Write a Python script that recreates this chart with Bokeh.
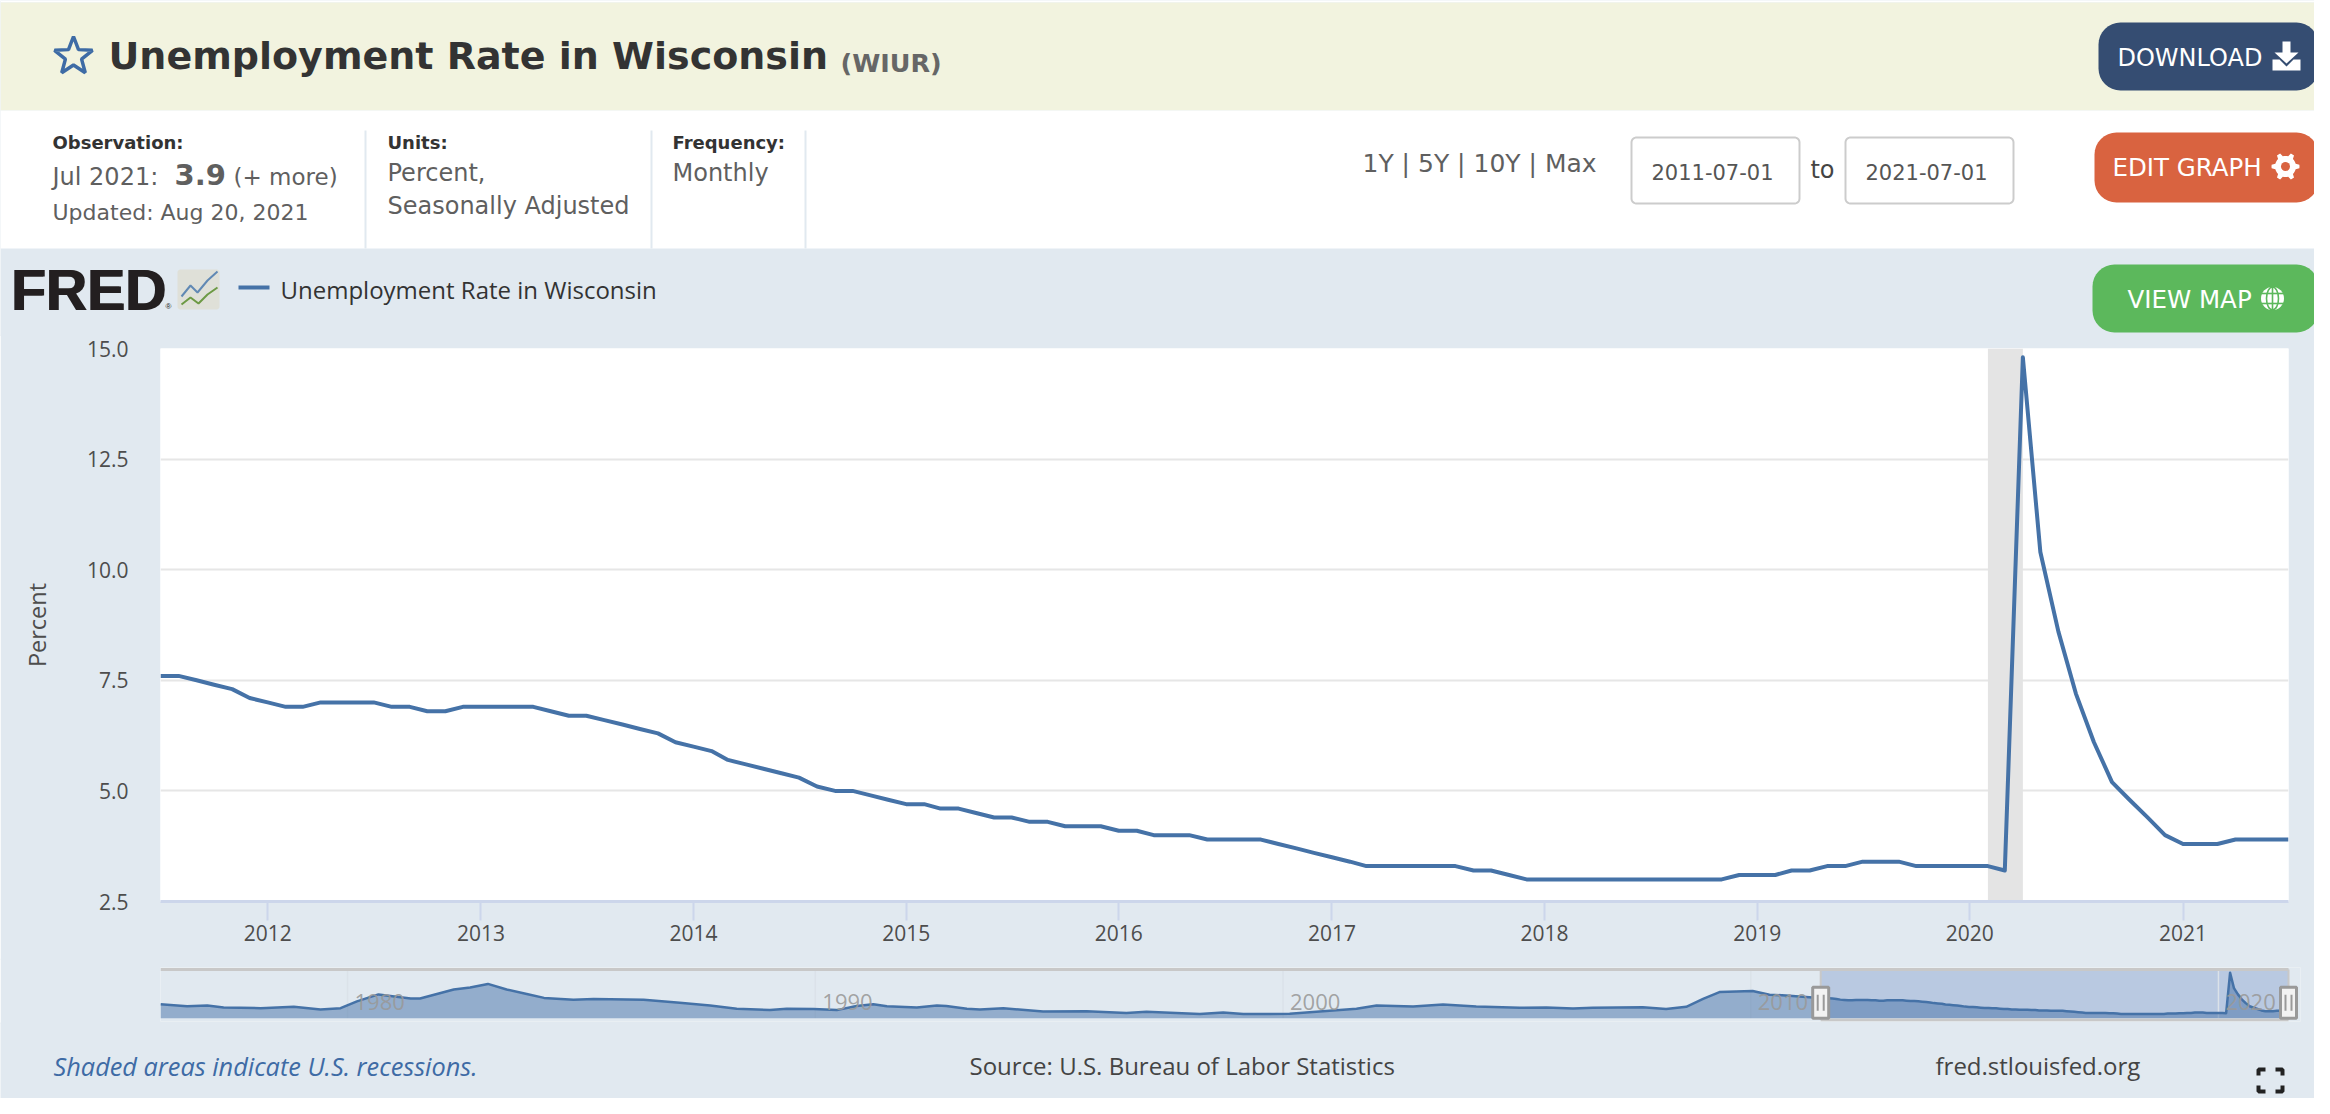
import math
import numpy as np
import pandas as pd
from bokeh.core.properties import value
from bokeh.embed import file_html
from bokeh.models import (DatetimeTickFormatter, FixedTicker, NumeralTickFormatter, Range1d)
from bokeh.plotting import figure
from bokeh.resources import INLINE

# ---------- data ----------
rate_2011 = [7.6, 7.6, 7.5, 7.4, 7.3, 7.1]
rate_2012 = [7.0, 6.9, 6.9, 7.0, 7.0, 7.0, 7.0, 6.9, 6.9, 6.8, 6.8, 6.9]
rate_2013 = [6.9, 6.9, 6.9, 6.9, 6.8, 6.7, 6.7, 6.6, 6.5, 6.4, 6.3, 6.1]
rate_2014 = [6.0, 5.9, 5.7, 5.6, 5.5, 5.4, 5.3, 5.1, 5.0, 5.0, 4.9, 4.8]
rate_2015 = [4.7, 4.7, 4.6, 4.6, 4.5, 4.4, 4.4, 4.3, 4.3, 4.2, 4.2, 4.2]
rate_2016 = [4.1, 4.1, 4.0, 4.0, 4.0, 3.9, 3.9, 3.9, 3.9, 3.8, 3.7, 3.6]
rate_2017 = [3.5, 3.4, 3.3, 3.3, 3.3, 3.3, 3.3, 3.3, 3.2, 3.2, 3.1, 3.0]
rate_2018 = [3.0, 3.0, 3.0, 3.0, 3.0, 3.0, 3.0, 3.0, 3.0, 3.0, 3.0, 3.1]
rate_2019 = [3.1, 3.1, 3.2, 3.2, 3.3, 3.3, 3.4, 3.4, 3.4, 3.3, 3.3, 3.3]
rate_2020 = [3.3, 3.3, 3.2, 14.8, 10.4, 8.6, 7.2, 6.1, 5.2, 4.8, 4.4, 4.0]
rate_2021 = [3.8, 3.8, 3.8, 3.9, 3.9, 3.9, 3.9]
first_month = "2011-07-01"
last_month = "2021-07-01"
recession_start = ["2020-02-01"]
recession_end = ["2020-04-01"]
y_ticks = [2.5, 5.0, 7.5, 10.0, 12.5, 15.0]
x_tick_years = [2012, 2013, 2014, 2015, 2016, 2017, 2018, 2019, 2020, 2021]

# navigator history before the selected window
history_years = [1976.0, 1976.57, 1977.0, 1977.35, 1978.14, 1978.85, 1979.42, 1979.85, 1980.2, 1980.66,
                 1981.0, 1981.35, 1981.55, 1982.27, 1982.62, 1983.0, 1983.4, 1983.83, 1984.2, 1984.83,
                 1985.26, 1986.33, 1987.1, 1987.75, 1988.32, 1989.03, 1989.39, 1989.96, 1990.46, 1990.88,
                 1991.24, 1991.53, 1992.17, 1992.6, 1992.8, 1993.24, 1993.52, 1994.02, 1994.87, 1995.8,
                 1996.65, 1997.08, 1998.22, 1998.72, 1999.15, 2000.14, 2000.71, 2001.57, 2002.0, 2002.78,
                 2003.42, 2004.13, 2005.06, 2005.63, 2006.2, 2006.62, 2007.69, 2008.19, 2008.62, 2008.98,
                 2009.33, 2010.04, 2010.4, 2010.75, 2011.25]
history_rates = [5.8, 5.2, 5.4, 4.85, 4.65, 5.05, 4.3, 4.65, 6.6, 8.6,
                 8.0, 7.4, 7.4, 10.0, 10.6, 11.6, 10.0, 8.7, 7.6, 7.05,
                 7.25, 7.05, 6.2, 5.4, 4.5, 4.1, 4.5, 4.4, 4.1, 5.3,
                 5.8, 5.2, 4.85, 5.4, 5.3, 4.5, 4.3, 4.65, 3.7, 3.8,
                 3.3, 3.6, 2.95, 3.4, 2.95, 3.05, 3.6, 4.5, 5.4, 5.15,
                 5.7, 5.15, 4.75, 4.85, 4.55, 4.75, 4.95, 4.4, 5.05, 7.3,
                 9.25, 9.55, 8.5, 8.3, 7.8]
decade_years = [1980, 1990, 2000, 2010, 2020]
decade_labels = ["1980", "1990", "2000", "2010", "2020"]

rates = (rate_2011 + rate_2012 + rate_2013 + rate_2014 + rate_2015 + rate_2016
         + rate_2017 + rate_2018 + rate_2019 + rate_2020 + rate_2021)
months = pd.date_range(first_month, last_month, freq="MS")

# ---------- palette ----------
PAGE = "#e1e9f0"
BAND = "#f2f3df"
LINE = "#4572a7"
INK = "#333333"
GREY = "#5f5f5f"
AXIS = "#ccd6eb"
W = 2314
OVERLAP = 2


def ms(d):
    return pd.Timestamp(d).value / 1e6


def yr_ms(y):
    return (y - 1970) * 365.25 * 864e5


def sheet(top, bottom, margin=0):
    """A decoration sheet whose data units are the picture's own pixels."""
    p = figure(width=W, height=bottom - top, x_range=Range1d(0, W),
               y_range=Range1d(bottom, top), x_axis_type=None, y_axis_type=None,
               toolbar_location=None, output_backend="svg", min_border=0,
               margin=(-margin, 0, 0, 0),
               background_fill_color=PAGE, border_fill_color=PAGE, outline_line_color=None)
    p.grid.visible = False
    return p


def txt(p, x, y, s, size, color=INK, font="DejaVu Sans", style="normal", align="left"):
    p.text(x=[x], y=[y], text=[s], text_font=value(font), text_font_size=f"{size}px",
           text_color=color, text_font_style=style, text_align=align, text_baseline="middle")


def rrect(p, l, t, r, b, rad, fill, line=None, lw=0):
    xs, ys = [], []
    for cx, cy, a0 in ((r - rad, t + rad, -90), (r - rad, b - rad, 0), (l + rad, b - rad, 90), (l + rad, t + rad, 180)):
        for k in range(9):
            a = math.radians(a0 + k * 90 / 8)
            xs.append(cx + rad * math.cos(a))
            ys.append(cy + rad * math.sin(a))
    p.patch(xs, ys, fill_color=fill, line_color=line if line else fill, line_width=lw if line else 0)


# ---------- header sheet ----------
head = sheet(0, 336)
head.quad(left=[0], right=[W], top=[0], bottom=[2], fill_color="#ffffff", line_color=None)
head.quad(left=[0], right=[W], top=[2], bottom=[110], fill_color=BAND, line_color=None)
head.quad(left=[0], right=[W], top=[110], bottom=[248], fill_color="#ffffff", line_color=None)

sx, sy = [], []
for k in range(10):
    rad = 20 if k % 2 == 0 else 8.5
    a = math.radians(-90 + k * 36)
    sx.append(73 + rad * math.cos(a))
    sy.append(56 + rad * math.sin(a))
head.patch(sx, sy, fill_color=None, line_color="#3e6ba5", line_width=3.5)

txt(head, 108, 55, "Unemployment Rate in Wisconsin", 38, style="bold")
txt(head, 840, 62, "(WIUR)", 25.5, color="#666666", style="bold")

txt(head, 52, 142, "Observation:", 18, style="bold")
txt(head, 52, 176, "Jul 2021:", 24, color=GREY)
txt(head, 174, 174, "3.9", 29, color=GREY, style="bold")
txt(head, 233, 176, "(+ more)", 23, color=GREY)
txt(head, 52, 212, "Updated: Aug 20, 2021", 22, color=GREY)
txt(head, 387, 142, "Units:", 18, style="bold")
txt(head, 387, 172, "Percent,", 24, color=GREY)
txt(head, 387, 205, "Seasonally Adjusted", 24, color=GREY)
txt(head, 672, 142, "Frequency:", 18, style="bold")
txt(head, 672, 172, "Monthly", 24, color=GREY)
head.segment(x0=[365, 651, 805], x1=[365, 651, 805], y0=[130] * 3, y1=[248] * 3,
             line_color=PAGE, line_width=2)

txt(head, 1362, 163, "1Y | 5Y | 10Y | Max", 25, color=GREY)
rrect(head, 1631, 137, 1799, 203, 5, "#ffffff", "#cccccc", 2)
rrect(head, 1845, 137, 2013, 203, 5, "#ffffff", "#cccccc", 2)
txt(head, 1712, 171, "2011-07-01", 21, color="#555555", align="center")
txt(head, 1926, 171, "2021-07-01", 21, color="#555555", align="center")
txt(head, 1822, 169, "to", 24, color="#444444", align="center")

# download button
rrect(head, 2098, 22, 2318, 90, 22, "#354d72")
txt(head, 2117, 57, "DOWNLOAD", 24, color="#ffffff")
head.patch([2282, 2290, 2290, 2298, 2286, 2274, 2282], [41, 41, 52, 52, 63, 52, 52], fill_color="#ffffff", line_color=None)
head.patch([2272, 2279, 2286, 2293, 2300, 2300, 2272], [59, 59, 66, 59, 59, 70, 70], fill_color="#ffffff", line_color=None)

# edit button with gear
rrect(head, 2094, 132, 2318, 202, 22, "#d96340")
txt(head, 2112, 167, "EDIT GRAPH", 24.5, color="#ffffff")
gx, gy = [], []
for k in range(48):
    rad = 14 if (k % 8) in (0, 1, 2) else 10.5
    a = math.radians(k * 7.5 - 7.5)
    gx.append(2285 + rad * math.cos(a))
    gy.append(166 + rad * math.sin(a))
head.patch(gx, gy, fill_color="#ffffff", line_color=None)
head.circle(x=[2285], y=[166], radius=4.5, fill_color="#d96340", line_color=None)

# map button with globe
rrect(head, 2092, 264, 2318, 332, 22, "#5cb85c")
txt(head, 2127, 299, "VIEW MAP", 24.5, color="#ffffff")
head.circle(x=[2272], y=[298], radius=11.5, fill_color="#ffffff", line_color=None)
head.segment(x0=[2260, 2260, 2272], x1=[2284, 2284, 2272], y0=[293, 303, 286], y1=[293, 303, 310],
             line_color="#5cb85c", line_width=1.6)
head.ellipse(x=[2272], y=[298], width=12, height=23, fill_color=None, line_color="#5cb85c", line_width=1.6)

# logo and series key
txt(head, 10, 289, "FRED", 57, color="#231f20", font="Liberation Sans", style="bold")
txt(head, 11.5, 289, "FRED", 57, color="#231f20", font="Liberation Sans", style="bold")
txt(head, 165, 306, "®", 8, color="#231f20", font="Liberation Sans")
rrect(head, 177, 269, 219, 309, 3, "#dfe0d8")
head.line([181, 190, 197, 207, 217], [296, 285, 292, 280, 271], line_color="#6189b4", line_width=2)
head.line([181, 190, 198, 207, 217], [304, 297, 303, 294, 287], line_color="#6d9a45", line_width=2)
head.segment(x0=[238], x1=[269], y0=[287], y1=[287], line_color=LINE, line_width=4)
txt(head, 280, 289, "Unemployment Rate in Wisconsin", 24, font="Open Sans", color="#333333")

# ---------- main chart ----------
main = figure(width=W, height=624 + OVERLAP, x_axis_type="datetime",
              x_range=Range1d(ms(first_month), ms(last_month)), y_range=Range1d(2.5, 15.0),
              toolbar_location=None, output_backend="svg", margin=(-OVERLAP, 0, 0, 0),
              min_border_left=160, min_border_right=26, min_border_top=12 + OVERLAP, min_border_bottom=59,
              background_fill_color="#ffffff", border_fill_color=PAGE, outline_line_color=None)
main.xgrid.visible = False
main.ygrid.grid_line_color = "#e6e6e6"
main.ygrid.grid_line_width = 2
main.yaxis.ticker = FixedTicker(ticks=y_ticks)
main.yaxis.formatter = NumeralTickFormatter(format="0.0")
main.yaxis.axis_line_color = None
main.yaxis.major_tick_line_color = None
main.yaxis.minor_tick_line_color = None
main.yaxis.major_label_standoff = 26
main.yaxis.major_label_text_font = "Open Sans"
main.yaxis.major_label_text_font_size = "21px"
main.yaxis.major_label_text_color = "#4d4d4d"
main.yaxis.axis_label = "Percent"
main.yaxis.axis_label_text_font = "Open Sans"
main.yaxis.axis_label_text_font_size = "23.5px"
main.yaxis.axis_label_text_font_style = "normal"
main.yaxis.axis_label_text_color = "#4d4d4d"
main.yaxis.axis_label_standoff = 31
main.xaxis.ticker = FixedTicker(ticks=[ms(f"{y}-01-01") for y in x_tick_years])
main.xaxis.formatter = DatetimeTickFormatter(years="%Y", months="%Y", days="%Y", hours="%Y")
main.xaxis.axis_line_color = AXIS
main.xaxis.axis_line_width = 3
main.xaxis.major_tick_line_color = AXIS
main.xaxis.major_tick_line_width = 2
main.xaxis.major_tick_in = 0
main.xaxis.major_tick_out = 19
main.xaxis.minor_tick_line_color = None
main.xaxis.major_label_standoff = 4
main.xaxis.major_label_text_font = "Open Sans"
main.xaxis.major_label_text_font_size = "21px"
main.xaxis.major_label_text_color = "#4d4d4d"
main.quad(left=[ms(d) for d in recession_start], right=[ms(d) for d in recession_end],
          bottom=[2.5], top=[15.0], fill_color="#e4e4e4", line_color=None)
main.line(months, rates, line_color=LINE, line_width=4, line_join="round")

# ---------- navigator ----------
NAV_L, NAV_SEL_R, NAV_R = 160, 2288, 2300
nav_start = yr_ms(1976.0)
sel0, sel1 = ms(first_month), ms(last_month)
per_px = (sel1 - nav_start) / (NAV_SEL_R - NAV_L)
nav_bottom, nav_top = 0.835, 16.3
base_val, top_val = 1.78, 15.75
nav = figure(width=W, height=64 + OVERLAP, x_axis_type=None, y_axis_type=None,
             x_range=Range1d(nav_start, sel1 + (NAV_R - NAV_SEL_R) * per_px),
             y_range=Range1d(nav_bottom, nav_top),
             toolbar_location=None, output_backend="svg", margin=(-OVERLAP, 0, 0, 0),
             min_border_left=160, min_border_right=14, min_border_top=7 + OVERLAP, min_border_bottom=3,
             background_fill_color=PAGE, border_fill_color=PAGE, outline_line_color=None)
nav.grid.visible = False
nav.quad(left=[sel0], right=[sel1], bottom=[base_val], top=[top_val], fill_color="#b9c9e1", line_color=None)
decade_x = [ms(f"{y}-01-01") for y in decade_years]
nav.segment(x0=decade_x, x1=decade_x, y0=[base_val] * 5, y1=[top_val] * 5, line_color="#dbe2e9", line_width=1.5)
nav_x = [yr_ms(y) for y in history_years] + [ms(m) for m in months]
nav_y = history_rates + rates
nav.varea(x=nav_x, y1=[base_val] * len(nav_x), y2=nav_y, fill_color=LINE, fill_alpha=0.5)
nav.line(nav_x, nav_y, line_color=LINE, line_width=2.5, line_join="round")
nav.text(x=decade_x, y=[6.28] * 5, text=decade_labels, x_offset=7, text_font=value("Open Sans"),
         text_font_size="22px", text_color="#999999", text_alpha=0.9, text_align="left", text_baseline="middle")
OUT = "#c8c8c8"
nav.segment(x0=[nav_start, sel0], x1=[sel1, sel1], y0=[top_val, 1.25], y1=[top_val, 1.25], line_color=OUT, line_width=3)
nav.segment(x0=[sel0, sel1], x1=[sel0, sel1], y0=[1.25] * 2, y1=[top_val] * 2, line_color=OUT, line_width=2)
nav.rect(x=[sel0, sel1], y=[6.2, 6.2], width=16, height=31, width_units="screen", height_units="screen",
         fill_color="#f2f2f2", line_color="#999999", line_width=3)
tick_x = [sel0 - 3 * per_px, sel0 + 3 * per_px, sel1 - 3 * per_px, sel1 + 3 * per_px]
nav.segment(x0=tick_x, x1=tick_x, y0=[3.9] * 4, y1=[8.5] * 4, line_color="#999999", line_width=2)

# ---------- footer sheet ----------
foot = sheet(1024 - OVERLAP, 1098, margin=OVERLAP)
txt(foot, 53, 1065, "Shaded areas indicate U.S. recessions.", 25.3, color="#3e6ba5", font="Open Sans", style="italic")
txt(foot, 969, 1065, "Source: U.S. Bureau of Labor Statistics", 24, color="#444444", font="Open Sans")
txt(foot, 1935, 1065, "fred.stlouisfed.org", 24, color="#444444", font="Open Sans")
foot.multi_line(xs=[[2258, 2258, 2265], [2275, 2282, 2282], [2258, 2258, 2265], [2275, 2282, 2282]],
                ys=[[1075, 1069, 1069], [1069, 1069, 1075], [1085, 1091, 1091], [1091, 1091, 1085]],
                line_color="#222222", line_width=4)

# separate roots stack on the page without their plot frames being aligned to each other
open("out.html", "w").write(file_html([head, main, nav, foot], INLINE))
